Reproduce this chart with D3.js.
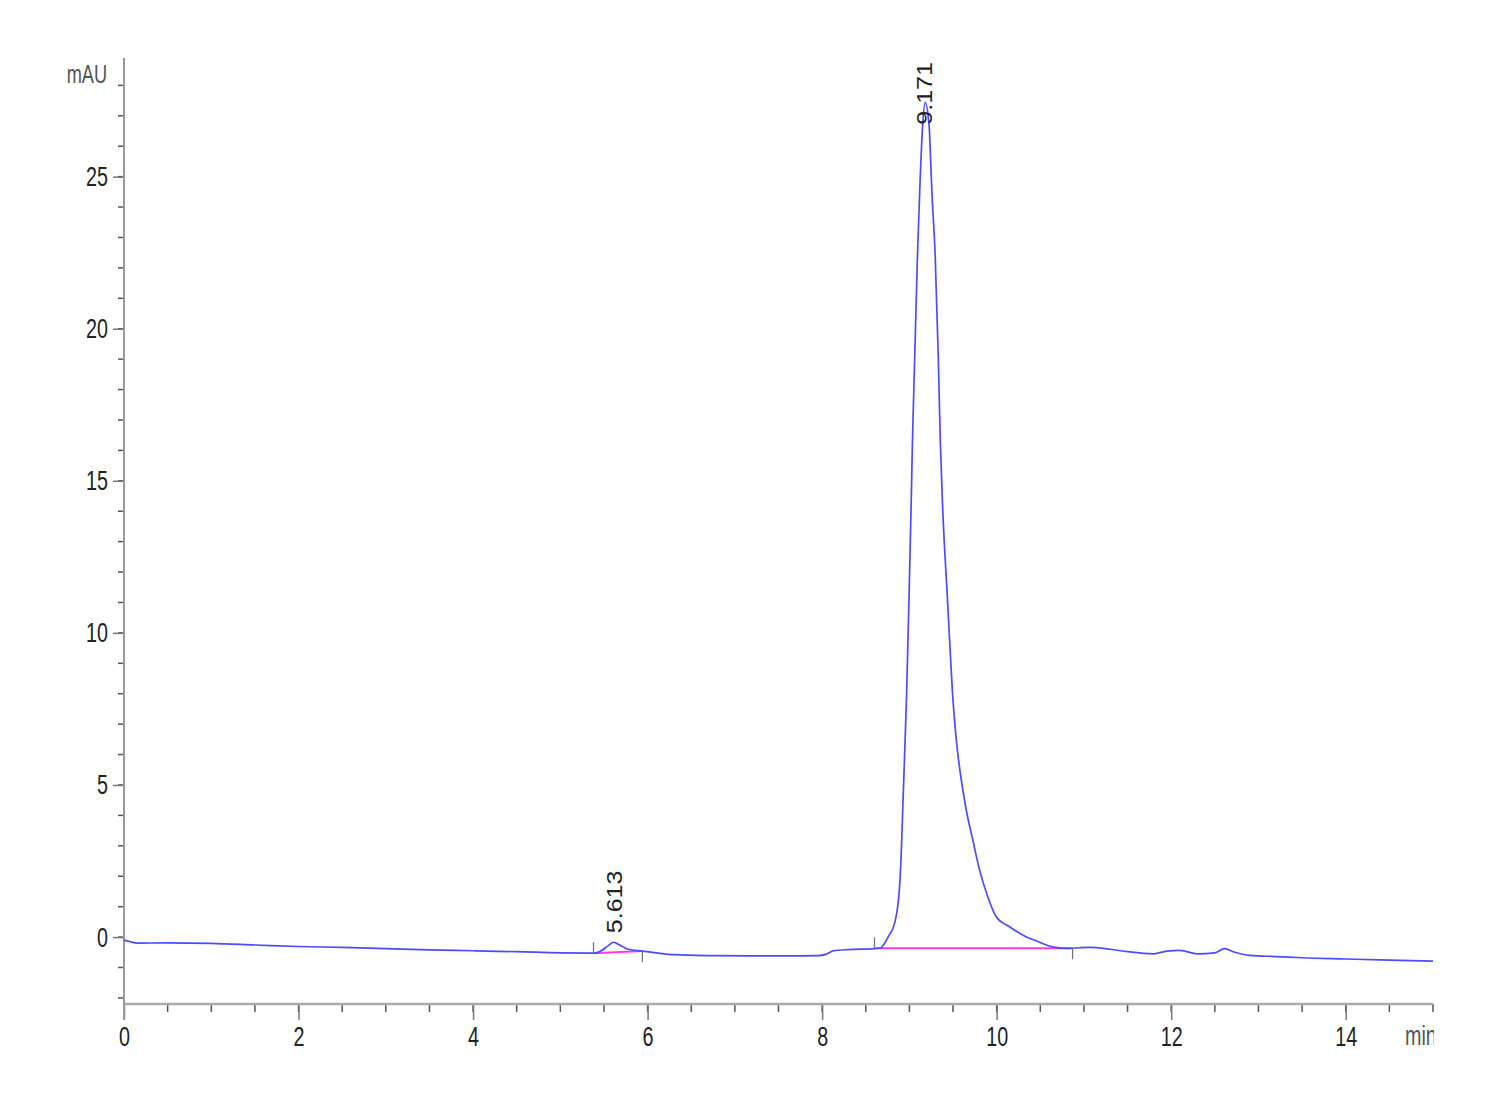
<!DOCTYPE html>
<html>
<head>
<meta charset="utf-8">
<script src="https://d3js.org/d3.v7.min.js"></script>
<style>
  body { margin: 0; background: #fff; }
  text { font-family: "Liberation Sans Narrow", "Liberation Sans", Arial, sans-serif; }
</style>
</head>
<body>
<div id="chart"></div>
<script>
// retention time (min) and detector signal (mAU)
var rt = [0.00, 0.08, 0.15, 0.50, 1.00, 1.50, 2.00, 2.50, 3.00, 3.50, 4.00, 4.50, 5.00,
  5.38, 5.47, 5.55, 5.61, 5.68, 5.78, 5.94, 6.10, 6.30, 6.70, 7.20, 7.60, 7.95, 8.05, 8.13,
  8.30, 8.60, 8.67, 8.70, 8.755, 8.83, 8.87, 8.89, 8.91, 8.927, 8.966, 8.995, 9.02, 9.035,
  9.061, 9.092, 9.118, 9.150, 9.180, 9.225, 9.258, 9.296, 9.331, 9.354, 9.380, 9.437, 9.461,
  9.492, 9.538, 9.595, 9.652, 9.727, 9.804, 9.899, 9.995, 10.147, 10.336, 10.45, 10.64, 10.83,
  10.95, 11.05, 11.30, 11.50, 11.80, 11.95, 12.10, 12.30, 12.50, 12.61, 12.72, 12.90, 13.20,
  13.50, 14.00, 14.50, 15.00];
var mAU = [-0.10, -0.16, -0.20, -0.19, -0.21, -0.26, -0.31, -0.34, -0.38, -0.42, -0.45, -0.48, -0.52,
  -0.53, -0.45, -0.28, -0.17, -0.26, -0.40, -0.46, -0.52, -0.58, -0.61, -0.62, -0.62, -0.61, -0.56, -0.45,
  -0.41, -0.38, -0.36, -0.27, 0.00, 0.45, 1.10, 1.77, 3.0, 4.5, 7.79, 11.07, 14.2, 16.3,
  19.06, 22.35, 24.5, 26.6, 27.44, 26.7, 24.5, 22.35, 19.06, 16.33, 14.2, 11.07, 9.75,
  8.11, 6.47, 5.16, 4.17, 3.19, 2.2, 1.32, 0.67, 0.34, 0.01, -0.12, -0.32, -0.37,
  -0.35, -0.34, -0.40, -0.48, -0.55, -0.46, -0.44, -0.55, -0.52, -0.38, -0.49, -0.60, -0.64,
  -0.68, -0.72, -0.76, -0.79];

// integrated peaks
var peakLabels = ["5.613", "9.171"];
var peakTimes = [5.613, 9.171];
var peakApex = [-0.17, 27.44];
var baseStartT = [5.38, 8.60];
var baseStartV = [-0.53, -0.37];
var baseEndT = [5.94, 10.87];
var baseEndV = [-0.46, -0.37];

var xMajor = [0, 2, 4, 6, 8, 10, 12, 14];
var yMajor = [0, 5, 10, 15, 20, 25];

var W = 1500, H = 1100;
// the printout's lettering is condensed and tall
var SX = 0.79, SY = 1.12;

var svg = d3.select("#chart").append("svg")
  .attr("width", W).attr("height", H)
  .style("background", "#fff");

var x = d3.scaleLinear().domain([0, 15]).range([124, 1433]);
var y = d3.scaleLinear().domain([-2.2, 28.9]).range([1004, 58]);

var x0 = x.range()[0], yb = y.range()[0];

// squeeze a text element in place
function condense(sel, sx, sy) {
  sel.each(function() {
    var t = d3.select(this);
    var tx = +t.attr("x") || 0, ty = +t.attr("y") || 0;
    t.attr("x", 0).attr("y", 0)
      .attr("transform", "translate(" + tx + "," + ty + ") scale(" + sx + "," + sy + ")");
  });
}

// minor ticks
var xMinor = d3.range(0, 15.01, 0.5);
var yMinor = d3.range(-2, 29, 1);

svg.append("g").selectAll("line").data(xMinor).enter().append("line")
  .attr("x1", d => x(d)).attr("x2", d => x(d))
  .attr("y1", yb).attr("y2", yb + 8)
  .attr("stroke", "#555").attr("stroke-width", 1.5);
svg.append("g").selectAll("line").data(yMinor).enter().append("line")
  .attr("x1", x0 - 6).attr("x2", x0)
  .attr("y1", d => y(d)).attr("y2", d => y(d))
  .attr("stroke", "#555").attr("stroke-width", 1.5);

// major ticks through d3 axes
var xAxis = svg.append("g").attr("transform", "translate(0," + yb + ")")
  .call(d3.axisBottom(x).tickValues(xMajor).tickSize(16).tickPadding(6).tickFormat(d3.format("d")));
var yAxis = svg.append("g").attr("transform", "translate(" + x0 + ",0)")
  .call(d3.axisLeft(y).tickValues(yMajor).tickSize(11).tickPadding(5).tickFormat(d3.format("d")));

[xAxis, yAxis].forEach(function(g) {
  g.select(".domain").remove();
  g.selectAll(".tick line").attr("stroke", "#777").attr("stroke-width", 1.5);
  g.selectAll(".tick text").attr("fill", "#222").style("font-size", "25px")
    .call(condense, SX, SY);
});

// axis lines
svg.append("line").attr("x1", x0).attr("x2", x.range()[1]).attr("y1", yb).attr("y2", yb)
  .attr("stroke", "#aaa").attr("stroke-width", 2.5);
svg.append("line").attr("x1", x0).attr("x2", x0).attr("y1", y.range()[1]).attr("y2", yb + 16)
  .attr("stroke", "#999").attr("stroke-width", 2);

// units
svg.append("text").attr("x", 107).attr("y", 83).attr("text-anchor", "end")
  .attr("fill", "#555").style("font-size", "23px").text("mAU")
  .call(condense, SX, SY);
svg.append("defs").append("clipPath").attr("id", "clipMin")
  .append("rect").attr("x", 1380).attr("y", 1010).attr("width", 54).attr("height", 60);
svg.append("g").attr("clip-path", "url(#clipMin)")
  .append("text").attr("x", 1405).attr("y", 1045)
  .attr("fill", "#555").style("font-size", "25px").text("min")
  .call(condense, SX, SY);

// integration baselines
var baseIdx = d3.range(baseStartT.length);
svg.append("g").selectAll("line").data(baseIdx).enter().append("line")
  .attr("x1", i => x(baseStartT[i])).attr("y1", i => y(baseStartV[i]))
  .attr("x2", i => x(baseEndT[i])).attr("y2", i => y(baseEndV[i]))
  .attr("stroke", "#ff3be8").attr("stroke-width", 2);

// trace
var pts = rt.map((t, i) => [t, mAU[i]]);
var line = d3.line().x(d => x(d[0])).y(d => y(d[1])).curve(d3.curveMonotoneX);
svg.append("path").datum(pts).attr("d", line)
  .attr("fill", "none").attr("stroke", "#4b4bff").attr("stroke-width", 1.7);

// start/end markers of integration
svg.append("g").selectAll("line").data(baseIdx).enter().append("line")
  .attr("x1", i => x(baseStartT[i])).attr("x2", i => x(baseStartT[i]))
  .attr("y1", i => y(baseStartV[i]) - 11).attr("y2", i => y(baseStartV[i]))
  .attr("stroke", "#777").attr("stroke-width", 1.3);
svg.append("g").selectAll("line").data(baseIdx).enter().append("line")
  .attr("x1", i => x(baseEndT[i])).attr("x2", i => x(baseEndT[i]))
  .attr("y1", i => y(baseEndV[i])).attr("y2", i => y(baseEndV[i]) + 11)
  .attr("stroke", "#777").attr("stroke-width", 1.3);

// retention time labels, rotated (stretched along the text)
var topY = y.range()[1];
svg.append("g").selectAll("text").data(d3.range(peakLabels.length)).enter().append("text")
  .text(i => peakLabels[i])
  .attr("fill", "#222").style("font-size", "22px")
  .attr("dy", "0.36em")
  .each(function(i) {
    var len = this.getComputedTextLength() * 1.14;
    var yy = Math.max(y(peakApex[i]) - 9, topY + 4 + len);
    d3.select(this).attr("transform", "translate(" + x(peakTimes[i]) + "," + yy + ") rotate(-90) scale(1.14,1)");
  });
</script>
</body>
</html>
